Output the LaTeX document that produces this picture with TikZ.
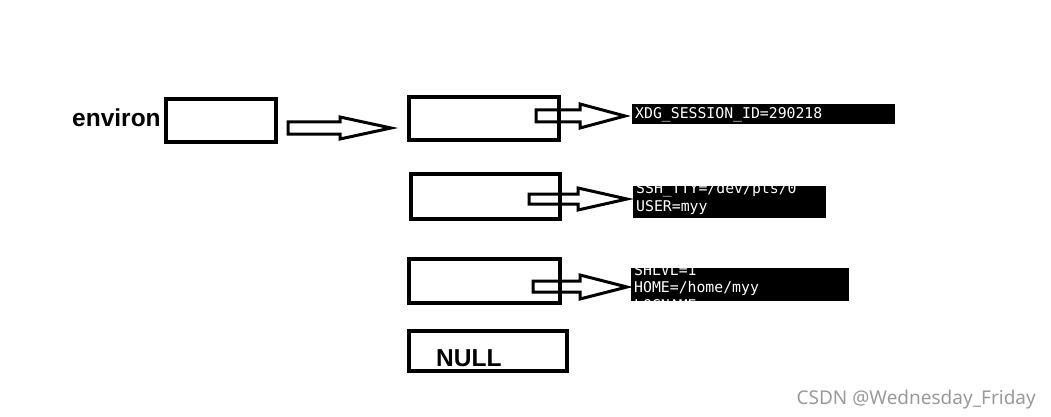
\documentclass[tikz,border=0pt]{standalone}
\usepackage{fontspec}
\setmainfont{Liberation Sans}
\newfontfamily\monof{DejaVu Sans Mono}
\newfontfamily\wmf{Noto Sans}
\begin{document}
\begin{tikzpicture}[x=1pt,y=-1pt,
  box/.style={draw,line width=3.4pt},
  harrow/.style={draw,line width=3pt,line join=miter},
  term/.style={fill=black},
  tt/.style={text=white,font=\monof\fontsize{14.8}{17}\selectfont,anchor=base west,inner sep=0pt},
  big/.style={font=\bfseries\fontsize{24.5}{28}\selectfont,anchor=base west,inner sep=0pt}]
\useasboundingbox (0,0) rectangle (1051,417);
\draw[box] (166,99) rectangle (276,142);
\draw[box] (409,97) rectangle (559,140);
\draw[box] (411,174) rectangle (560,219);
\draw[box] (409,259) rectangle (560,303);
\draw[box] (409,331) rectangle (567,371);
\node[big] (env) at (72,126) {environ};
\node[big] (null) at (436,366) {NULL};
% hollow arrows
\draw[harrow] (288,122)--(340,122)--(340,117)--(391,128)--(340,139)--(340,134)--(288,134)--cycle;
\draw[harrow] (536,110)--(580,110)--(580,104)--(625,116)--(580,128)--(580,122)--(536,122)--cycle;
\draw[harrow] (529,194)--(578,194)--(578,188)--(627,199)--(578,210)--(578,204)--(529,204)--cycle;
\draw[harrow] (533,281)--(580,281)--(580,275)--(627,287)--(580,299)--(580,292)--(533,292)--cycle;
% terminal boxes
\fill[term] (632,104) rectangle (895,124);
\node[tt] (t1) at (635,119) {XDG\_SESSION\_ID=290218};
\begin{scope}
\clip (633,186) rectangle (826,218);
\fill[term] (633,186) rectangle (826,218);
\node[tt] (t2) at (636,193) {SSH\_TTY=/dev/pts/0};
\node[tt] (t3) at (636,211) {USER=myy};
\end{scope}
\begin{scope}
\clip (631,268) rectangle (849,301);
\fill[term] (631,268) rectangle (849,301);
\node[tt] (t4) at (634,275) {SHLVL=1};
\node[tt] (t5) at (634,292) {HOME=/home/myy};
\node[tt] (t6) at (634,310) {LOGNAME=myy};
\end{scope}
\node[text=gray!80,font=\wmf\fontsize{19}{22}\selectfont,anchor=base east,inner sep=0pt] (wm) at (1036,404) {CSDN @Wednesday\_Friday};
\end{tikzpicture}
\end{document}
